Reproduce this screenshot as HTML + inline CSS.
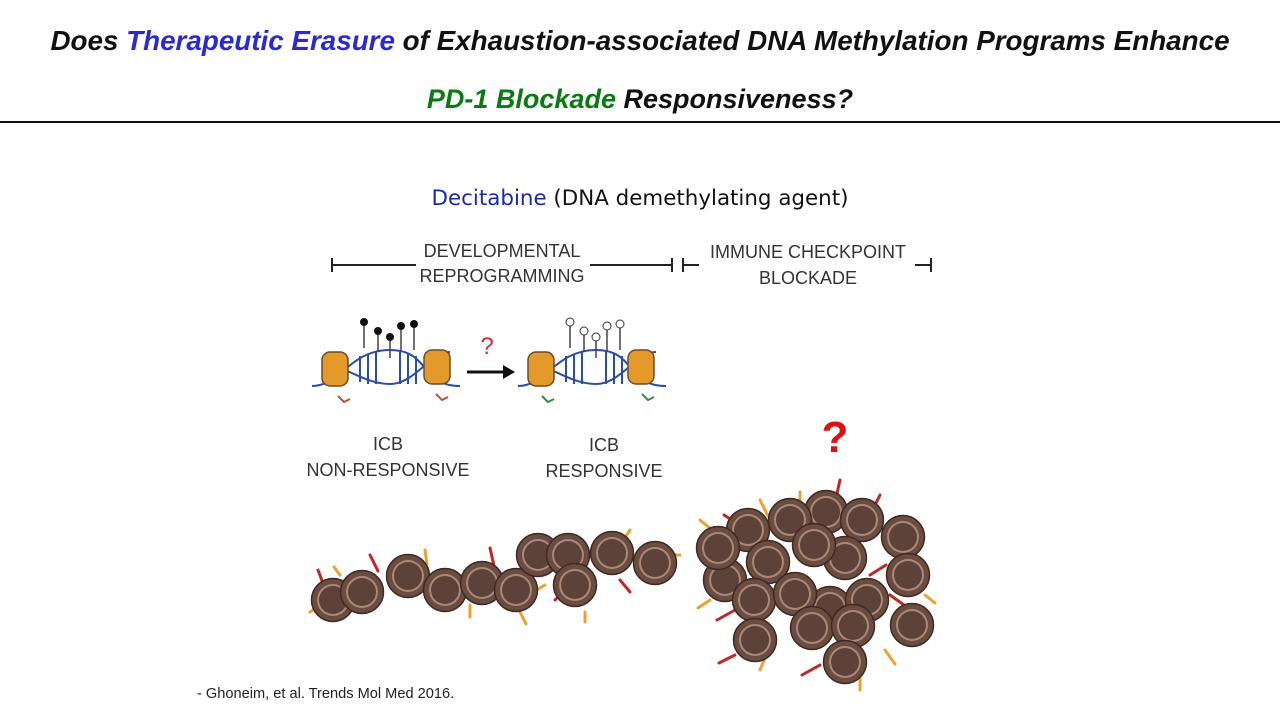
<!DOCTYPE html>
<html><head><meta charset="utf-8"><style>
body{margin:0;width:1280px;height:720px;background:#fff;overflow:hidden;position:relative;font-family:"Liberation Sans",sans-serif}
.t{position:absolute;left:0;width:1280px;text-align:center;font-weight:bold;font-style:italic;color:#111;white-space:nowrap}
</style></head><body>
<div class="t" style="top:25px;font-size:27.8px">Does <span style="color:#2a2ad0">Therapeutic Erasure</span> of Exhaustion-associated DNA Methylation Programs Enhance</div>
<div class="t" style="top:84px;font-size:27px"><span style="color:#0a7a12">PD-1 Blockade</span> Responsiveness?</div>
<div style="position:absolute;top:121px;left:0;width:1280px;height:2px;background:#111"></div>
<div style="position:absolute;top:186px;left:0;width:1280px;text-align:center;font-size:21.4px;color:#111;font-family:'DejaVu Sans',sans-serif"><span style="color:#1a2aa8">Decitabine</span> (DNA demethylating agent)</div>
<div style="position:absolute;top:686px;left:197px;font-size:14.6px;color:#222">- Ghoneim, et al. Trends Mol Med 2016.</div>
<svg width="1280" height="720" style="position:absolute;left:0;top:0" font-family="Liberation Sans,sans-serif">
<defs>
<g id="c"><circle r="21.5" fill="#6b4c40" stroke="#3e2a22" stroke-width="1.5"/><circle r="16" fill="#a88878"/><circle r="14" fill="#5c4238"/></g>
</defs>
<g stroke="#222" stroke-width="2" fill="none">
<path d="M332 258v14M332 265h84M590 265h82M672 258v14M683 258v14M683 265h16M915 265h16M931 258v14"/>
</g>
<g font-size="18" fill="#333" text-anchor="middle">
<text x="502" y="257">DEVELOPMENTAL</text><text x="502" y="282">REPROGRAMMING</text>
<text x="808" y="258">IMMUNE CHECKPOINT</text><text x="808" y="284">BLOCKADE</text>
<text x="388" y="450">ICB</text><text x="388" y="476">NON-RESPONSIVE</text>
<text x="604" y="451">ICB</text><text x="604" y="477">RESPONSIVE</text>
</g>
<text x="487" y="354" font-size="24" fill="#d03030" text-anchor="middle">?</text>
<text x="835" y="452" font-size="44" font-weight="bold" fill="#e01010" text-anchor="middle">?</text>
<path d="M467 372h40" stroke="#111" stroke-width="3"/><path d="M503 365l12 7-12 7z" fill="#111"/>
<g stroke="#2a4ea8" stroke-width="2" fill="none">
<path d="M312 386C340 386 350 350 390 350S420 386 460 386"/><path d="M330 366C345 366 365 384 390 384S430 352 450 352"/>
<path d="M518 386C546 386 556 350 596 350S626 386 666 386"/><path d="M536 366C551 366 571 384 596 384S636 352 656 352"/>
<path d="M360 356v26M368 354v30M376 352v32M400 352v32M408 354v30M416 356v28M566 356v26M574 354v30M582 352v32M606 352v32M614 354v30M622 356v28"/>
</g>
<g stroke="#444" stroke-width="1.5"><path d="M364 348v-22M378 352v-18M390 358v-18M401 352v-22M414 350v-22M570 348v-22M584 352v-18M596 358v-18M607 352v-22M620 350v-22"/></g>
<g fill="#111"><circle cx="364" cy="322" r="4"/><circle cx="378" cy="331" r="4"/><circle cx="390" cy="337" r="4"/><circle cx="401" cy="326" r="4"/><circle cx="414" cy="324" r="4"/></g>
<g fill="#fff" stroke="#333"><circle cx="570" cy="322" r="4"/><circle cx="584" cy="331" r="4"/><circle cx="596" cy="337" r="4"/><circle cx="607" cy="326" r="4"/><circle cx="620" cy="324" r="4"/></g>
<g fill="#e39a2a" stroke="#6b4a30" stroke-width="1.5">
<rect x="322" y="352" width="26" height="34" rx="8"/><rect x="424" y="350" width="26" height="34" rx="8"/>
<rect x="528" y="352" width="26" height="34" rx="8"/><rect x="628" y="350" width="26" height="34" rx="8"/>
</g>
<g stroke-width="2" fill="none"><path d="M338 396l6 6 6-3" stroke="#c05040"/><path d="M436 394l6 6 6-3" stroke="#c05040"/><path d="M542 396l6 6 6-3" stroke="#3a8a40"/><path d="M642 394l6 6 6-3" stroke="#3a8a40"/></g>
<g stroke-width="3" stroke-linecap="round">
<g stroke="#c02828"><path d="M318 570l6 16M370 555l8 16M490 548l4 18M565 590l-10 10M620 580l10 12M740 525l-16 -10M735 610l-18 10M800 595l10 18M880 495l-8 16M840 480l-4 18M870 575l16 -10M735 655l-16 8M820 665l-18 10M890 595l14 10"/></g>
<g stroke="#f0a030"><path d="M310 612l12 -8M340 575l-6 -8M425 550l2 14M520 612l6 12M545 585l-10 6M630 530l-8 12M680 555l-14 0M700 520l12 10M760 500l8 16M800 492l0 16M900 560l16 -6M925 595l10 8M710 600l-12 8M885 650l10 14M860 690l0 -12M760 670l4 -10M585 612l0 10M470 605l0 12"/></g>
</g>
<g>
<use href="#c" x="333" y="600"/><use href="#c" x="362" y="592"/><use href="#c" x="408" y="576"/><use href="#c" x="445" y="590"/><use href="#c" x="482" y="583"/><use href="#c" x="516" y="590"/><use href="#c" x="538" y="555"/><use href="#c" x="568" y="555"/><use href="#c" x="612" y="553"/><use href="#c" x="655" y="563"/><use href="#c" x="575" y="585"/>
<use href="#c" x="826" y="512"/><use href="#c" x="790" y="520"/><use href="#c" x="748" y="530"/><use href="#c" x="862" y="520"/><use href="#c" x="903" y="537"/><use href="#c" x="725" y="580"/><use href="#c" x="718" y="548"/><use href="#c" x="768" y="562"/><use href="#c" x="845" y="558"/><use href="#c" x="814" y="545"/><use href="#c" x="908" y="575"/><use href="#c" x="754" y="600"/><use href="#c" x="830" y="608"/><use href="#c" x="867" y="600"/><use href="#c" x="795" y="594"/><use href="#c" x="912" y="625"/><use href="#c" x="755" y="640"/><use href="#c" x="812" y="628"/><use href="#c" x="853" y="626"/><use href="#c" x="845" y="662"/>
</g>
</svg>
</body></html>
